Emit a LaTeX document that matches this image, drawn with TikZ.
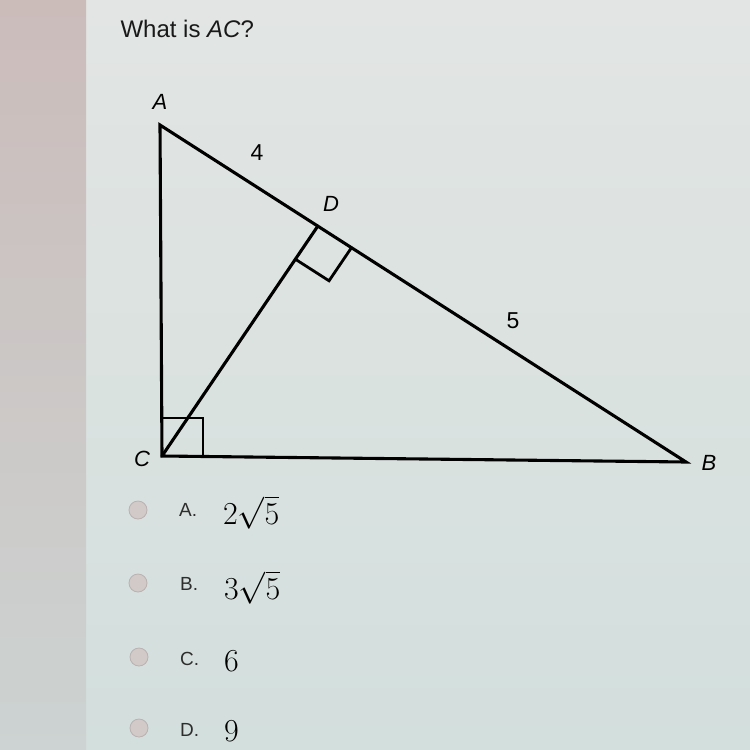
\RequirePackage{fix-cm}
\documentclass[tikz,border=0pt]{standalone}
\usepackage[no-math]{fontspec}
\setmainfont{Liberation Sans}
\usetikzlibrary{calc}

\definecolor{screenTop}{HTML}{E2E5E3}
\definecolor{screenBottom}{HTML}{D3DFDD}
\definecolor{sideTop}{HTML}{CBBCBA}
\definecolor{sideBottom}{HTML}{CCD3D2}
\definecolor{radioFill}{HTML}{D2C9C9}
\definecolor{radioEdge}{HTML}{BAB1B1}
\definecolor{inkGray}{HTML}{2E2E2E}

\tikzset{
  edge/.style={line width=3.1pt, line join=miter, line cap=round},
  anglebox/.style={line width=2.8pt, line join=miter},
  vertex/.style={font=\fontsize{22}{22}\selectfont\itshape, inner sep=0pt},
  sidelen/.style={font=\fontsize{23}{23}\selectfont, inner sep=0pt},
  radio/.style={circle, minimum size=18pt, inner sep=0pt, fill=radioFill, draw=radioEdge, line width=0.8pt},
  choice/.style={font=\fontsize{19}{19}\selectfont, text=inkGray, inner sep=0pt, anchor=base west},
  answer/.style={font=\fontsize{32}{32}\selectfont, inner sep=0pt, anchor=base west},
}

\begin{document}
\begin{tikzpicture}[x=1pt, y=-1pt]
    \useasboundingbox (0,0) rectangle (750,750);

    % Draw the screen behind the question
    \shade[top color=screenTop, bottom color=screenBottom] (0,0) rectangle (750,750);
    \shade[top color=sideTop, bottom color=sideBottom] (0,0) rectangle (86,750);

    % Question
    \node[anchor=west, font=\fontsize{24}{24}\selectfont, text=black!90] (question) at (117,29) {What is \textit{AC}?};

    % Corners of the triangle
    \coordinate (A) at (160,125);
    \coordinate (C) at (162,456);
    \coordinate (B) at (686,462);
    \coordinate (D) at ($(A)!0.3!(B)$);

    % Draw the triangle and the altitude CD
    \draw[edge] (A) -- (B) -- (C) -- cycle;
    \draw[edge] (C) -- (D);

    % Right angle at C
    \draw[anglebox] ($(C)+(0,-38)$) -- ++(41,0) -- ++(0,38);

    % Right angle at D
    \coordinate (Dc) at ($(D)!40pt!(C)$);
    \coordinate (Db) at ($(D)!40pt!(B)$);
    \draw[anglebox] (Dc) -- ($(Dc)+(Db)-(D)$) -- (Db);

    % Label the corners and the sides
    \node[vertex] (labA) at (160,102) {A};
    \node[vertex] (labD) at (331,204) {D};
    \node[vertex] (labC) at (142,459) {C};
    \node[vertex] (labB) at (709,463) {B};
    \node[sidelen] (len4) at (257,153) {4};
    \node[sidelen] (len5) at (513,321) {5};

    % Answer choices
    \node[radio] (optA) at (138,510) {};
    \node[choice] (letA) at (179,516) {A.};
    \node[answer] (valA) at (223,524) {$2\sqrt{5}$};

    \node[radio] (optB) at (138,583) {};
    \node[choice] (letB) at (180,590) {B.};
    \node[answer] (valB) at (224,599) {$3\sqrt{5}$};

    \node[radio] (optC) at (139,657) {};
    \node[choice] (letC) at (180,665) {C.};
    \node[answer] (valC) at (224,671) {$6$};

    \node[radio] (optD) at (139,728) {};
    \node[choice] (letD) at (180,736) {D.};
    \node[answer] (valD) at (224,741) {$9$};
\end{tikzpicture}
\end{document}
